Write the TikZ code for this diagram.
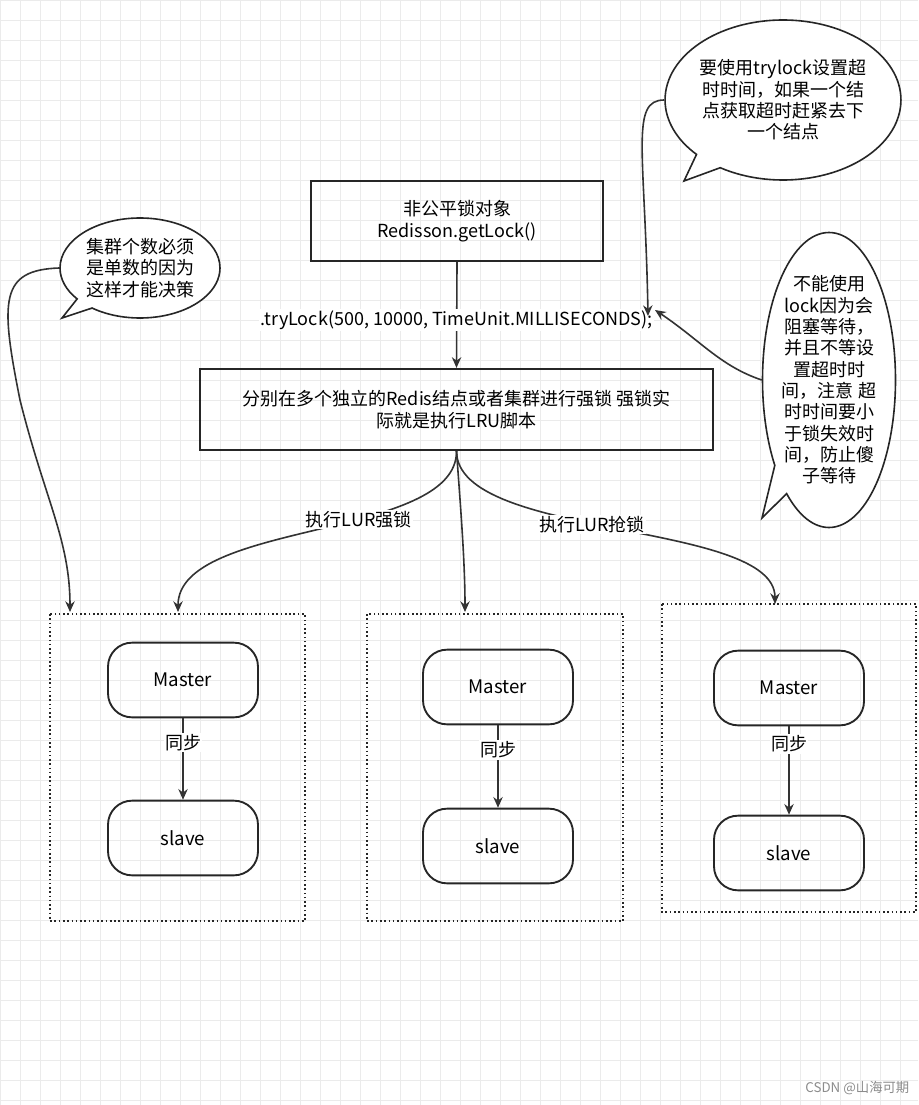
\documentclass[tikz,border=0pt]{standalone}
\usepackage{fontspec}
\setmainfont{Noto Sans CJK SC}
\usetikzlibrary{shapes.callouts,arrows.meta}
\begin{document}
\begin{tikzpicture}[x=0.75pt,y=-0.75pt,
  box/.style={draw=black!85,line width=1.4pt,align=center,font=\fontsize{13.5}{17}\selectfont},
  rnd/.style={draw=black!85,line width=1.4pt,rounded corners=18pt,minimum width=112.5pt,minimum height=56pt,font=\fontsize{14}{16}\selectfont},
  grp/.style={draw=black!85,line width=1.2pt,dotted},
  arr/.style={draw=black!80,line width=1.2pt,-{Stealth[length=8pt,width=7pt]}},
  lbl/.style={fill=white,inner sep=1pt,font=\fontsize{13.5}{16}\selectfont},
  call/.style={ellipse callout,draw=black!85,line width=1.2pt,fill=white,align=center,font=\fontsize{13.5}{16}\selectfont,inner sep=0pt}]
\useasboundingbox (0,0) rectangle (918,1105);
\fill[white] (0,0) rectangle (918,1105);
\foreach \i in {0,20,...,1100} {\draw[black!8,line width=0.4pt] (0,\i) -- (918,\i);}
\foreach \i in {0,20,...,918} {\draw[black!8,line width=0.4pt] (\i,0) -- (\i,1105);}
\node[box,minimum width=219pt,minimum height=60pt] (b1) at (457,221) {非公平锁对象\\Redisson.getLock()};
\node[box,minimum width=385pt,minimum height=61pt] (b2) at (456.5,409.5) {分别在多个独立的Redis结点或者集群进行强锁 强锁实\\际就是执行LRU脚本};
\draw[arr] (b1.south) -- node[lbl,pos=0.55]{.tryLock(500, 10000, TimeUnit.MILLISECONDS);} (b2.north);
\draw[grp] (50,614) rectangle (305,921);
\draw[grp] (367,614) rectangle (623,921);
\draw[grp] (662,604) rectangle (916,912);
\coordinate (g1) at (178,612);
\coordinate (g2) at (465,612);
\coordinate (g3) at (775,604);
\draw[arr] (b2.south) .. controls (457,540) and (178,520) .. node[lbl,pos=0.4]{执行LUR强锁} (g1);
\draw[arr] (b2.south) .. controls (460,500) and (465,560) .. (g2);
\draw[arr] (b2.south) .. controls (457,540) and (775,520) .. node[lbl,pos=0.45]{执行LUR抢锁} (g3);
\node[rnd] (m1) at (183,680) {Master};
\node[rnd] (s1) at (183,838) {slave};
\node[rnd] (m2) at (498,687) {Master};
\node[rnd] (s2) at (498,846) {slave};
\node[rnd] (m3) at (789,688) {Master};
\node[rnd] (s3) at (789,853) {slave};
\draw[arr] (m1) -- node[lbl,pos=0.3]{同步} (s1);
\draw[arr] (m2) -- node[lbl,pos=0.3]{同步} (s2);
\draw[arr] (m3) -- node[lbl,pos=0.2]{同步} (s3);
\node[call,minimum width=120pt,minimum height=75pt,callout absolute pointer={(62,318)}] (c1) at (140,268) {集群个数必须\\是单数的因为\\这样才能决策};
\node[call,minimum width=147pt,minimum height=120pt,callout absolute pointer={(684,181)}] (c2) at (783,100) {要使用trylock设置超\\时时间，如果一个结\\点获取超时赶紧去下\\一个结点};
\node[call,minimum width=88pt,minimum height=205pt,callout absolute pointer={(762,518)}] (c3) at (829,380) {不能使用\\lock因为会\\阻塞等待，\\并且不等设\\置超时时\\间，注意 超\\时时间要小\\于锁失效时\\间，防止傻\\子等待};
\coordinate (t1) at (70,612);
\coordinate (t2) at (648,316);
\coordinate (t3) at (655,310);
\draw[arr] (c1.west) .. controls (0,270) and (0,300) .. (20,400) .. controls (45,500) and (70,540) .. (t1);
\draw[arr] (c2.west) .. controls (630,100) and (645,150) .. (t2);
\draw[arr] (c3.west) .. controls (720,366) and (700,340) .. (t3);
\node[text=black!45,font=\fontsize{10}{12}\selectfont,anchor=east] at (914,1088) {CSDN @山海可期};
\end{tikzpicture}
\end{document}
